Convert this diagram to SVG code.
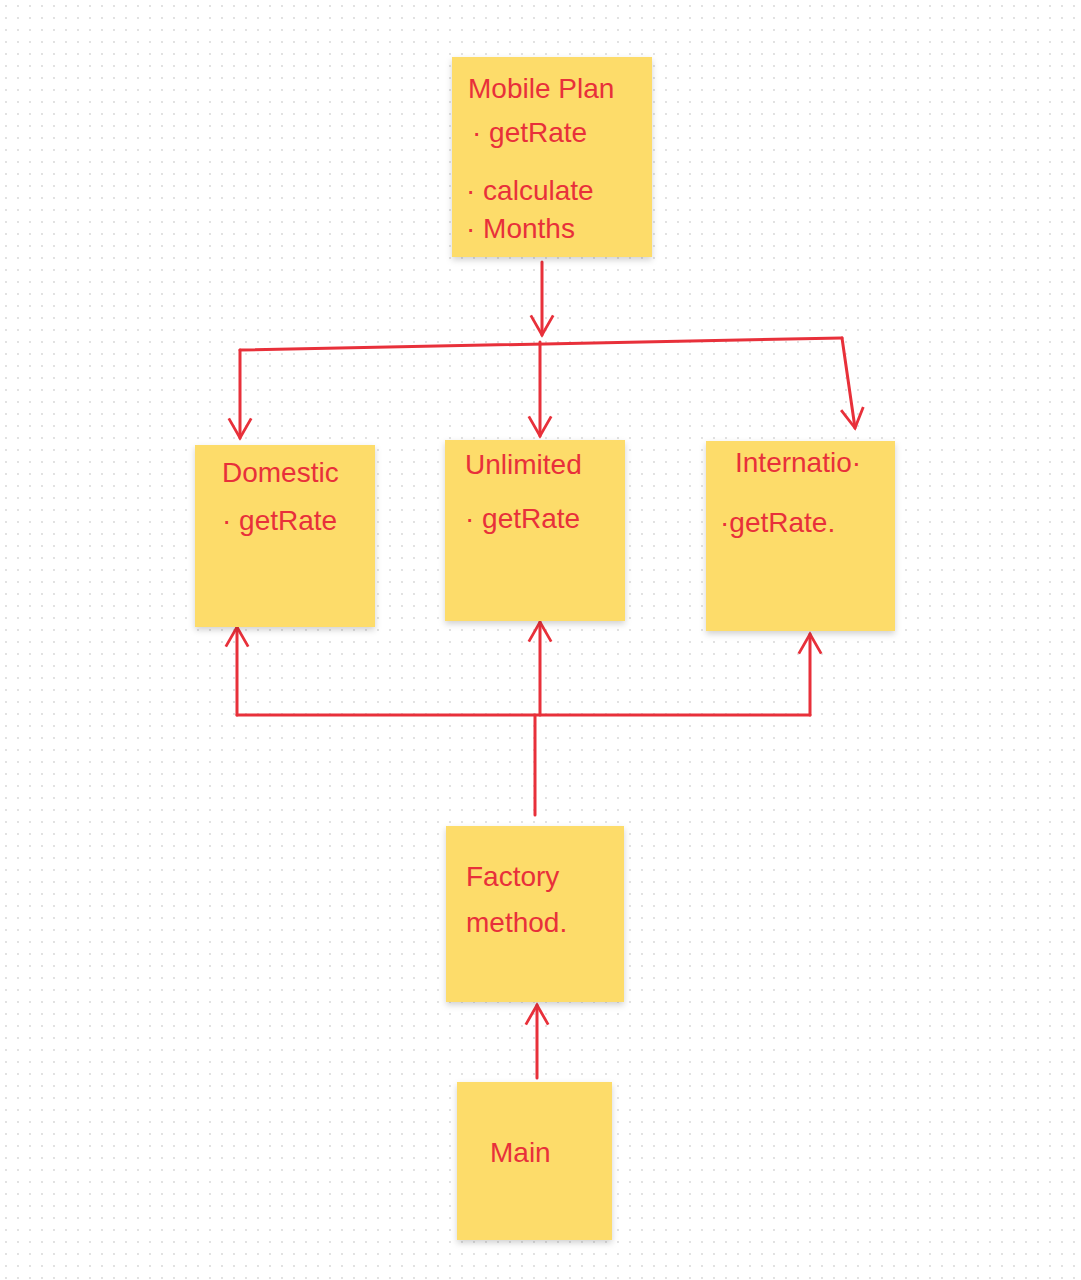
<svg xmlns="http://www.w3.org/2000/svg" width="1081" height="1280" viewBox="0 0 1081 1280">
<defs>
<pattern id="dots" width="12" height="12" patternUnits="userSpaceOnUse"><circle cx="6" cy="6" r="0.9" fill="#d4d4d4"/></pattern>
<marker id="ah" viewBox="0 0 20 20" refX="18" refY="10" markerWidth="28" markerHeight="28" markerUnits="userSpaceOnUse" orient="auto"><path d="M4,2 L18,10 L4,18" fill="none" stroke="#e8303a" stroke-width="2"/></marker>
<filter id="sh" x="-10%" y="-10%" width="130%" height="130%"><feDropShadow dx="0" dy="3" stdDeviation="3" flood-color="#000" flood-opacity="0.18"/></filter>
</defs>
<style>
.note{fill:#fddc6b;filter:url(#sh)}
.t{font-family:"Liberation Sans",sans-serif;fill:#e8303a;font-size:28px}
.c{fill:none;stroke:#e8303a;stroke-width:3;stroke-linecap:round}
</style>
<rect width="1081" height="1280" fill="#fff"/>
<rect width="1081" height="1280" fill="url(#dots)"/>
<g id="connectors">
<path class="c" d="M542,262 L542,335" marker-end="url(#ah)"/>
<path class="c" d="M240,350 L842,338"/>
<path class="c" d="M240,350 L240,438" marker-end="url(#ah)"/>
<path class="c" d="M540,342 L540,436" marker-end="url(#ah)"/>
<path class="c" d="M842,338 L855,428" marker-end="url(#ah)"/>
<path class="c" d="M535,815 L535,715"/>
<path class="c" d="M237,715 L810,715"/>
<path class="c" d="M237,715 L237,627" marker-end="url(#ah)" stroke-width="5"/>
<path class="c" d="M540,715 L540,622" marker-end="url(#ah)" stroke-width="6"/>
<path class="c" d="M810,715 L810,634" marker-end="url(#ah)" stroke-width="4"/>
<path class="c" d="M537,1078 L537,1005" marker-end="url(#ah)"/>
</g>
<g id="mobileplan"><rect class="note" x="452" y="57" width="200" height="200"/>
<text class="t" x="468" y="98">Mobile Plan</text><text class="t" x="472" y="142">· getRate</text><text class="t" x="466" y="200">· calculate</text><text class="t" x="466" y="238">· Months</text></g>
<g id="domestic"><rect class="note" x="195" y="445" width="180" height="182"/>
<text class="t" x="222" y="482">Domestic</text><text class="t" x="222" y="530">· getRate</text></g>
<g id="unlimited"><rect class="note" x="445" y="440" width="180" height="181"/>
<text class="t" x="465" y="474">Unlimited</text><text class="t" x="465" y="528">· getRate</text></g>
<g id="international"><rect class="note" x="706" y="441" width="189" height="190"/>
<text class="t" x="735" y="472" font-size="22">Internatio·</text><text class="t" x="720" y="532">·getRate.</text></g>
<g id="factory"><rect class="note" x="446" y="826" width="178" height="176"/>
<text class="t" x="466" y="886" font-size="34">Factory</text><text class="t" x="466" y="932" font-size="34">method.</text></g>
<g id="main"><rect class="note" x="457" y="1082" width="155" height="158"/>
<text class="t" x="490" y="1162" font-size="36">Main</text></g>
</svg>
